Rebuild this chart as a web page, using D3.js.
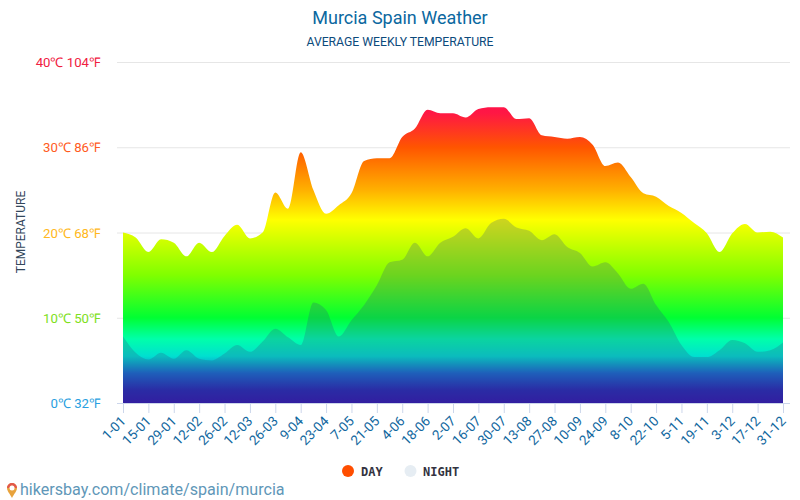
<!DOCTYPE html>
<html>
<head>
<meta charset="utf-8">
<script src="https://cdn.jsdelivr.net/npm/d3@7"></script>
<style>
html, body { margin: 0; padding: 0; background: #fff; }
text { font-family: Roboto, sans-serif; }
</style>
</head>
<body>
<svg class="chart"></svg>
<script>
// Weekly dates, every second one gets a label
var weeks = ['1-01','8-01','15-01','22-01','29-01','5-02','12-02','19-02','26-02','5-03','12-03','19-03','26-03',
    '2-04','9-04','16-04','23-04','30-04','7-05','14-05','21-05','28-05','4-06','11-06','18-06','25-06',
    '2-07','9-07','16-07','23-07','30-07','6-08','13-08','20-08','27-08','3-09','10-09','17-09','24-09',
    '1-10','8-10','15-10','22-10','29-10','5-11','12-11','19-11','26-11','3-12','10-12','17-12','24-12','31-12'];

var dayTemps = [20, 19.4, 17.7, 19.2, 18.8, 17.2, 18.8, 17.7, 19.6, 20.9, 19.3, 20, 24.7,
    22.8, 29.4, 25, 22.2, 23.2, 24.6, 28.4, 28.7, 28.7, 31.2, 32.2, 34.4, 34,
    34, 33.5, 34.5, 34.7, 34.7, 33.3, 33.4, 31.4, 31.2, 31, 31.2, 30.3, 27.8,
    28.2, 26.5, 24.6, 24.2, 23.1, 22.3, 21.1, 19.9, 17.7, 19.9, 21, 20, 20.1, 19.4];

var nightTemps = [7.8, 5.9, 5.1, 5.9, 5.2, 6.2, 5.2, 5, 5.8, 6.8, 6, 7.2, 8.7,
    7.7, 6.8, 11.8, 10.9, 7.8, 9.7, 11.5, 13.8, 16.5, 16.8, 18.8, 17.2, 18.8,
    19.5, 20.5, 19.3, 21.1, 21.6, 20.6, 20.2, 19.1, 19.8, 18.3, 17.6, 16, 16.5,
    15.2, 13.4, 14, 11.5, 9.5, 6.8, 5.4, 5.4, 6.2, 7.4, 7, 6, 6.2, 7.1];

var yTicks = [0, 10, 20, 30, 40];
var yLabels = ['0℃ 32℉', '10℃ 50℉', '20℃ 68℉', '30℃ 86℉', '40℃ 104℉'];
var yColors = ['#2a9fe0', '#7ee020', '#ffb820', '#ff5a22', '#f0203f'];

// Colour of the area by temperature
var gradTemps = [0, 1.5, 3.5, 5.5, 7.5, 10, 15, 21.5, 25, 30, 34, 40];
var gradColors = ['#3311aa', '#2a22b0', '#1a66cc', '#00e0d0', '#00ffaa', '#00ff33', '#80ff00', '#ffff00', '#ffb000', '#ff5500', '#ff1744', '#ff0066'];

var width = 800;
var height = 500;

var svg = d3.select(".chart")
    .attr("width", width)
    .attr("height", height)
    .style("display", "block");

var xScale = d3.scalePoint()
    .domain(weeks)
    .range([123, 783]);

var yScale = d3.scaleLinear()
    .domain([0, 40])
    .range([403, 62]);

// Vertical gradient, in chart coordinates so it does not depend on the area's bounding box
var gradient = svg.append("defs").append("linearGradient")
    .attr("id", "tempGradient")
    .attr("gradientUnits", "userSpaceOnUse")
    .attr("x1", 0)
    .attr("x2", 0)
    .attr("y1", yScale(0))
    .attr("y2", yScale(40));

gradient.selectAll("stop")
    .data(gradTemps)
    .enter().append("stop")
    .attr("offset", function(d) { return d / 40; })
    .attr("stop-color", function(d, i) { return gradColors[i]; });

// Grid lines
svg.selectAll(".grid")
    .data(yTicks)
    .enter().append("line")
    .attr("class", "grid")
    .attr("x1", 117)
    .attr("x2", 790)
    .attr("y1", function(d) { return yScale(d) + 0.5; })
    .attr("y2", function(d) { return yScale(d) + 0.5; })
    .style("stroke", function(d) { return d === 0 ? "#ccd6eb" : "#e6e6e6"; });

// Y labels, each in its own colour
svg.selectAll(".y-label")
    .data(yTicks)
    .enter().append("text")
    .attr("class", "y-label")
    .attr("x", 101)
    .attr("y", function(d) { return yScale(d) + 5; })
    .attr("text-anchor", "end")
    .style("font-size", "13.2px")
    .style("fill", function(d, i) { return yColors[i]; })
    .text(function(d, i) { return yLabels[i]; });

var area = d3.area()
    .x(function(d, i) { return xScale(weeks[i]); })
    .y0(yScale(0))
    .y1(function(d) { return yScale(d); })
    .curve(d3.curveMonotoneX);

svg.append("path")
    .attr("d", area(dayTemps))
    .style("fill", "url(#tempGradient)");

// Night sits on top as a thin dark veil
svg.append("path")
    .attr("d", area(nightTemps))
    .style("fill", "#2c4a80")
    .style("fill-opacity", 0.24);

// X axis
var xAxis = d3.axisBottom(xScale)
    .tickValues(weeks.filter(function(d, i) { return i % 2 === 0; }))
    .tickSize(10)
    .tickSizeOuter(0);

var xGroup = svg.append("g")
    .attr("transform", "translate(0,403)")
    .call(xAxis);

xGroup.select(".domain").remove();
xGroup.selectAll(".tick line").style("stroke", "#ccd6eb");
xGroup.selectAll(".tick text")
    .attr("x", 0)
    .attr("y", 0)
    .attr("dy", 0)
    .attr("text-anchor", "end")
    .attr("transform", "translate(3,19) rotate(-45)")
    .style("font-family", "Roboto, sans-serif")
    .style("font-size", "13.5px")
    .style("fill", "#1268a0");

// Titles
svg.append("text")
    .attr("x", 400)
    .attr("y", 24)
    .attr("text-anchor", "middle")
    .style("font-size", "18px")
    .style("fill", "#0b689f")
    .text("Murcia Spain Weather");

svg.append("text")
    .attr("x", 400)
    .attr("y", 46)
    .attr("text-anchor", "middle")
    .style("font-size", "12.2px")
    .style("fill", "#0c4a7c")
    .text("AVERAGE WEEKLY TEMPERATURE");

svg.append("text")
    .attr("transform", "translate(25,232) rotate(-90)")
    .attr("text-anchor", "middle")
    .style("font-size", "12px")
    .style("fill", "#33475b")
    .text("TEMPERATURE");

// Legend
svg.append("circle")
    .attr("cx", 348)
    .attr("cy", 471)
    .attr("r", 6)
    .style("fill", "#ff4e00");

svg.append("text")
    .attr("x", 361)
    .attr("y", 476)
    .style("font-family", "'DejaVu Sans Mono', monospace")
    .style("font-size", "12px")
    .style("font-weight", "bold")
    .style("fill", "#333340")
    .text("DAY");

svg.append("circle")
    .attr("cx", 410.5)
    .attr("cy", 471)
    .attr("r", 6)
    .style("fill", "#e6edf3");

svg.append("text")
    .attr("x", 423)
    .attr("y", 476)
    .style("font-family", "'DejaVu Sans Mono', monospace")
    .style("font-size", "12px")
    .style("font-weight", "bold")
    .style("fill", "#333340")
    .text("NIGHT");

// Source link with the little pin
var pin = svg.append("g")
    .attr("transform", "translate(12,488)");

pin.append("path")
    .attr("d", "M0,10 C-2,6 -5,3 -5,0 A5,5 0 0 1 5,0 C5,3 2,6 0,10 Z")
    .style("fill", "#e8a33d");

pin.append("path")
    .attr("d", "M-5,0 A5,5 0 0 1 5,0 L2.5,0 A2.5,2.5 0 0 0 -2.5,0 Z")
    .style("fill", "#e2574c");

pin.append("circle")
    .attr("r", 2.5)
    .style("fill", "#fff");

svg.append("text")
    .attr("x", 20)
    .attr("y", 495)
    .style("font-size", "16.1px")
    .style("fill", "#5f97b8")
    .text("hikersbay.com/climate/spain/murcia");
</script>
</body>
</html>
